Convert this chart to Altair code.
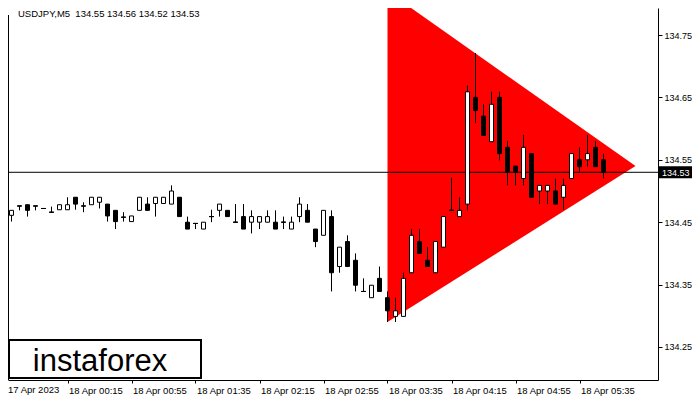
import altair as alt
import pandas as pd

symbol = "USDJPY,M5"
start_time = "2023-04-17 23:35"

opens = [
    134.460, 134.461, 134.476, 134.478, 134.476, 134.472, 134.466, 134.470, 134.470, 134.490,
    134.476, 134.478, 134.482, 134.479, 134.469, 134.458, 134.451, 134.469, 134.479, 134.480,
    134.480, 134.479, 134.490, 134.450, 134.448, 134.439, 134.459, 134.469, 134.469, 134.450,
    134.459, 134.450, 134.450, 134.450, 134.450, 134.450, 134.439, 134.459, 134.469, 134.439,
    134.429, 134.459, 134.379, 134.419, 134.389, 134.339, 134.329, 134.360, 134.329, 134.299,
    134.299, 134.369, 134.419, 134.389, 134.369, 134.410, 134.469, 134.459, 134.479, 134.650,
    134.620, 134.579, 134.650, 134.570, 134.540, 134.520, 134.560, 134.500, 134.500, 134.500,
    134.490, 134.520, 134.550, 134.550, 134.570, 134.550,
]
highs = [
    134.461, 134.469, 134.476, 134.478, 134.476, 134.472, 134.475, 134.478, 134.490, 134.490,
    134.482, 134.490, 134.490, 134.479, 134.469, 134.466, 134.460, 134.490, 134.490, 134.490,
    134.490, 134.509, 134.490, 134.459, 134.448, 134.450, 134.470, 134.479, 134.469, 134.479,
    134.479, 134.469, 134.459, 134.469, 134.469, 134.459, 134.459, 134.490, 134.479, 134.439,
    134.469, 134.469, 134.410, 134.429, 134.400, 134.360, 134.349, 134.379, 134.339, 134.329,
    134.369, 134.439, 134.439, 134.410, 134.419, 134.459, 134.521, 134.490, 134.669, 134.721,
    134.639, 134.659, 134.659, 134.580, 134.540, 134.590, 134.560, 134.509, 134.509, 134.520,
    134.520, 134.560, 134.570, 134.590, 134.580, 134.560,
]
lows = [
    134.448, 134.451, 134.469, 134.459, 134.469, 134.472, 134.466, 134.470, 134.470, 134.470,
    134.466, 134.478, 134.472, 134.451, 134.439, 134.451, 134.451, 134.469, 134.469, 134.459,
    134.480, 134.479, 134.459, 134.439, 134.439, 134.439, 134.450, 134.459, 134.459, 134.450,
    134.439, 134.432, 134.439, 134.450, 134.439, 134.439, 134.439, 134.450, 134.450, 134.410,
    134.429, 134.339, 134.369, 134.379, 134.339, 134.339, 134.329, 134.339, 134.290, 134.290,
    134.299, 134.369, 134.400, 134.379, 134.369, 134.410, 134.469, 134.459, 134.469, 134.609,
    134.589, 134.579, 134.549, 134.509, 134.509, 134.509, 134.490, 134.479, 134.479, 134.479,
    134.470, 134.520, 134.530, 134.539, 134.539, 134.520,
]
closes = [
    134.450, 134.469, 134.476, 134.469, 134.476, 134.472, 134.466, 134.478, 134.478, 134.479,
    134.476, 134.490, 134.490, 134.460, 134.451, 134.458, 134.460, 134.490, 134.469, 134.490,
    134.490, 134.500, 134.459, 134.439, 134.448, 134.450, 134.459, 134.479, 134.459, 134.450,
    134.439, 134.459, 134.459, 134.459, 134.439, 134.450, 134.450, 134.479, 134.450, 134.419,
    134.469, 134.369, 134.410, 134.379, 134.349, 134.339, 134.349, 134.339, 134.308, 134.308,
    134.360, 134.429, 134.400, 134.379, 134.419, 134.459, 134.469, 134.469, 134.659, 134.629,
    134.589, 134.639, 134.560, 134.530, 134.530, 134.570, 134.490, 134.509, 134.509, 134.479,
    134.509, 134.560, 134.539, 134.560, 134.539, 134.530,
]

# triangle pattern (start / apex)
tri_times = ["2023-04-18T03:35:00Z", "2023-04-18T06:10:00Z"]
tri_upper = [134.82, 134.54]
tri_lower = [134.29, 134.54]

last_price = 134.53
y_ticks = [134.25, 134.35, 134.45, 134.55, 134.65, 134.75]
x_tick_times = ["00:15", "00:55", "01:35", "02:15", "02:55", "03:35", "04:15", "04:55", "05:35"]
first_label = "17 Apr 2023"
logo_text = "instaforex"

times = pd.date_range(start_time, periods=len(opens), freq="5min")
df = pd.DataFrame({
    "t": times.strftime("%Y-%m-%dT%H:%M:%SZ"),
    "open": opens, "high": highs, "low": lows, "close": closes,
})
doji = df[df["open"] == df["close"]]
tri = pd.DataFrame({"t": tri_times, "up": tri_upper, "lo": tri_lower})
price_df = pd.DataFrame({"p": [last_price], "label": [f"{last_price:.2f}"]})

W, H = 650, 372
FONT = "Liberation Sans"
FS = 9.5
YFS = 9

x_vals = [alt.DateTime(year=2023, month=4, date=18, hours=int(s[:2]), minutes=int(s[3:]), utc=True)
          for s in x_tick_times]
x_scale = alt.Scale(type="utc", padding=0, nice=False, domain=[
    alt.DateTime(year=2023, month=4, date=17, hours=23, minutes=37, seconds=48, milliseconds=750, utc=True),
    alt.DateTime(year=2023, month=4, date=18, hours=6, minutes=24, seconds=3, milliseconds=750, utc=True),
])
x_axis = alt.Axis(values=x_vals, labelExpr="utcFormat(datum.value, '%d %b %H:%M')",
                  labelAlign="left", labelFont=FONT, labelFontSize=FS, labelColor="black",
                  tickColor="black", domainColor="black", tickSize=3, labelPadding=2,
                  labelOffset=1, grid=False, title=None, labelFlush=False, labelOverlap=False)
y_scale = alt.Scale(domain=[134.1971, 134.7933], nice=False, zero=False, padding=0)
y_axis = alt.Axis(orient="right", values=y_ticks, format=".2f", labelFont=FONT, labelFontSize=YFS,
                  labelColor="black", tickColor="black", domainColor="black", tickSize=4,
                  labelPadding=2, grid=False, title=None)

X = alt.X("t:T", scale=x_scale, axis=x_axis)

triangle = alt.Chart(tri).mark_area(color="#FF0000", opacity=1, clip=True).encode(
    x=X, y=alt.Y("up:Q", scale=y_scale, axis=y_axis), y2="lo:Q")

price_line = alt.Chart(price_df).mark_rule(color="black", strokeWidth=1).encode(
    y=alt.Y("p:Q", scale=y_scale, axis=y_axis), x=alt.value(0), x2=alt.value(W))

wicks = alt.Chart(df).mark_rule(color="black", strokeWidth=1, clip=True).encode(
    x=X, y=alt.Y("low:Q", scale=y_scale, axis=y_axis), y2="high:Q")

bodies = alt.Chart(df).mark_bar(size=4, stroke="black", strokeWidth=1, clip=True).encode(
    x=X, y=alt.Y("open:Q", scale=y_scale, axis=y_axis), y2="close:Q",
    fill=alt.condition("datum.close < datum.open", alt.value("black"), alt.value("white")))

doji_ticks = alt.Chart(doji).mark_tick(orient="horizontal", size=5, thickness=1, color="black",
                                      opacity=1, clip=True).encode(
    x=X, y=alt.Y("open:Q", scale=y_scale, axis=y_axis))

left_border = alt.Chart(price_df).mark_rule(color="black").encode(
    x=alt.value(0.5), y=alt.value(7), y2=alt.value(H))

price_box = alt.Chart(price_df).mark_tick(orient="horizontal", size=33, thickness=12, color="black",
                                         opacity=1, filled=True).encode(
    x=alt.value(667.5), y=alt.Y("p:Q", scale=y_scale, axis=y_axis))
price_text = alt.Chart(price_df).mark_text(align="left", baseline="middle", font=FONT, fontSize=YFS,
                                           color="white", dy=0.5).encode(
    x=alt.value(654), y=alt.Y("p:Q", scale=y_scale, axis=y_axis), text="label:N")

header = alt.Chart(price_df).mark_text(align="left", baseline="middle", font=FONT, fontSize=9.5,
                                       color="black").encode(
    x=alt.value(10), y=alt.value(5.5),
    text=alt.value(f"{symbol}\u00a0\u00a0{opens[-1]:.2f} {highs[-1]:.2f} {lows[-1]:.2f} {closes[-1]:.2f}"))

first_lbl = alt.Chart(price_df).mark_text(align="left", baseline="top", font=FONT, fontSize=FS,
                                          color="black").encode(
    x=alt.value(0), y=alt.value(H + 5), text=alt.value(first_label))

logo_box = alt.Chart(price_df).mark_rect(fill="white", stroke="black", strokeWidth=2).encode(
    x=alt.value(1), x2=alt.value(193), y=alt.value(332), y2=alt.value(370))
logo = alt.Chart(price_df).mark_text(align="center", baseline="alphabetic", font=FONT, fontSize=31,
                                     color="black").encode(
    x=alt.value(92), y=alt.value(363), text=alt.value(logo_text))

chart = alt.layer(
    triangle, price_line, wicks, bodies, doji_ticks, left_border,
    price_box, price_text, header, first_lbl, logo_box, logo,
).properties(
    width=W, height=H, autosize=alt.AutoSizeParams(type="none"),
    padding={"left": 0, "top": 0, "right": 34, "bottom": 20},
    background="white",
).configure_view(stroke=None)

chart.save("out.html", embed_options={"renderer": "svg", "actions": False})
